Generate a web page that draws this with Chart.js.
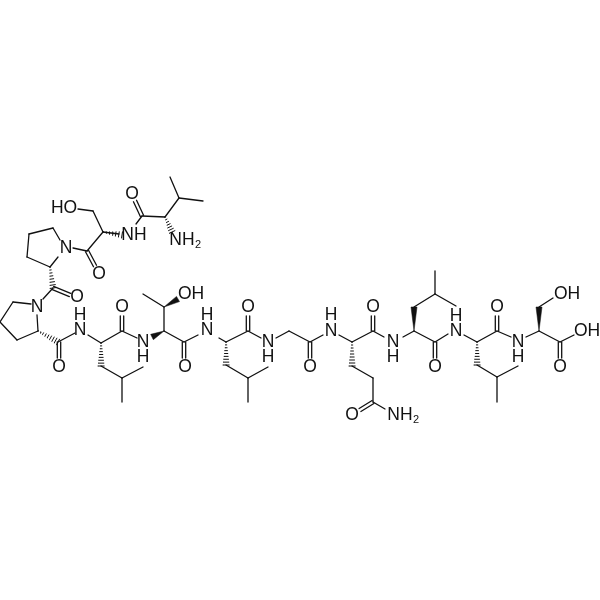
<!DOCTYPE html>
<html>
<head>
<meta charset="utf-8">
<script src="https://cdn.jsdelivr.net/npm/chart.js@4"></script>
<style>
    body { margin: 0; background: #fff; }
</style>
</head>
<body>
<canvas id="peptide" width="600" height="600"></canvas>
<script>
const singleBonds = [
    // Val
    [170, 177, 179, 198], [179, 198, 203, 201], [179, 198, 165, 217], [165, 217, 142, 216], [142, 216, 136, 224],
    // Ser
    [119, 234, 103, 232], [103, 232, 93, 211], [93, 211, 78, 209], [103, 232, 87, 251], [87, 251, 73, 248],
    // Pro 1
    [60, 240, 53, 228], [53, 228, 29, 234], [29, 234, 27, 257], [27, 257, 50, 267], [50, 267, 58, 257],
    [53, 288, 43, 299],
    // Pro 2
    [31, 304, 13, 302], [13, 302, 0, 322], [0, 322, 17, 340], [17, 340, 38, 331], [38, 331, 37, 315],
    // Leu
    [58, 342, 75, 333], [88, 335, 101, 343], [101, 343, 122, 331], [122, 331, 137, 338],
    [101, 366, 122, 378], [122, 378, 143, 367], [122, 378, 122, 402],
    // Thr
    [164, 331, 164, 307], [164, 307, 143, 294], [164, 331, 184, 342], [184, 342, 198, 335],
    // Leu
    [219, 338, 226, 342], [226, 342, 248, 331], [248, 331, 261, 338],
    [226, 365, 248, 378], [248, 378, 268, 367], [248, 378, 248, 402],
    // Gly
    [276, 338, 289, 331], [289, 331, 310, 342], [310, 342, 323, 335],
    // Gln
    [339, 335, 352, 342], [352, 342, 373, 331], [373, 331, 384, 337],
    [352, 366, 373, 378], [373, 378, 373, 402], [373, 402, 385, 409],
    // Leu
    [403, 337, 414, 331], [414, 331, 435, 342], [435, 342, 448, 334],
    [414, 307, 435, 294], [435, 294, 435, 271], [435, 294, 456, 306],
    // Leu
    [464, 335, 477, 342], [477, 342, 497, 331], [497, 331, 511, 337],
    [477, 365, 497, 377], [497, 377, 518, 366], [497, 377, 497, 402],
    // Ser
    [526, 337, 539, 331], [539, 331, 560, 342], [560, 342, 574, 335], [539, 307, 553, 298]
];

const doubleBonds = [
    [142, 216, 135, 201], [87, 251, 95, 266], [53, 288, 70, 295], [59, 342, 59, 358],
    [122, 331, 122, 316], [184, 342, 184, 358], [248, 331, 248, 316], [310, 342, 310, 358],
    [373, 331, 373, 316], [373, 402, 360, 410], [435, 342, 435, 358], [497, 331, 497, 316],
    [560, 342, 560, 358]
];

// narrow end first
const hashBonds = [
    [165, 217, 172, 232], [103, 232, 122, 235], [50, 267, 53, 288], [38, 331, 58, 342],
    [101, 343, 101, 366], [226, 342, 226, 365], [352, 342, 352, 366], [477, 342, 477, 365]
];

const wedgeBonds = [
    [164, 331, 152, 337], [164, 307, 178, 299], [414, 331, 414, 307], [539, 331, 539, 307]
];

const atomText = ["HO", "O", "NH", "N", "O", "O", "N",
    "N", "H", "O", "O", "N", "H", "OH", "O", "N", "H",
    "O", "N", "H", "O", "N", "H", "O", "O", "N", "H",
    "O", "N", "H", "O", "N", "H", "OH", "O", "OH"];
const atomX = [64, 132, 134, 66, 99, 77, 37,
    80, 80, 59, 122, 143, 143, 191, 185, 207, 207,
    248, 268, 268, 310, 331, 331, 373, 352, 393, 393,
    435, 456, 456, 497, 518, 518, 567, 560, 587];
const atomY = [208, 194, 235, 248, 274, 297, 307,
    330, 315, 367, 307, 342, 357, 294, 367, 330, 315,
    307, 342, 357, 367, 331, 315, 307, 415, 342, 357,
    367, 331, 316, 307, 342, 357, 294, 367, 331];

// NH2 groups have a subscript
const amineText = ["NH", "NH"];
const amineX = [182, 400];
const amineY = [240, 415];
const subText = ["2", "2"];
const subX = [198, 416];
const subY = [245, 420];

const inkColor = '#111';

function lineSet(points, width) {
    return {
        data: points,
        showLine: true,
        borderColor: inkColor,
        borderWidth: width,
        pointRadius: 0,
        borderCapStyle: 'round'
    };
}

let datasets = [];

for (const b of singleBonds) {
    datasets.push(lineSet([{ x: b[0], y: b[1] }, { x: b[2], y: b[3] }], 1.3));
}

// double bond = two lines next to each other
for (const b of doubleBonds) {
    let len = Math.hypot(b[2] - b[0], b[3] - b[1]);
    let nx = -(b[3] - b[1]) / len * 1.7;
    let ny = (b[2] - b[0]) / len * 1.7;
    datasets.push(lineSet([{ x: b[0] + nx, y: b[1] + ny }, { x: b[2] + nx, y: b[3] + ny }], 1.3));
    datasets.push(lineSet([{ x: b[0] - nx, y: b[1] - ny }, { x: b[2] - nx, y: b[3] - ny }], 1.3));
}

// hashed bond, short rungs getting wider
for (const b of hashBonds) {
    let len = Math.hypot(b[2] - b[0], b[3] - b[1]);
    let rungs = Math.round(len / 3);
    for (let i = 0; i <= rungs; i++) {
        let t = i / rungs;
        let half = 0.4 + t * 2.8;
        let cx = b[0] + (b[2] - b[0]) * t;
        let cy = b[1] + (b[3] - b[1]) * t;
        let nx = -(b[3] - b[1]) / len * half;
        let ny = (b[2] - b[0]) / len * half;
        datasets.push(lineSet([{ x: cx + nx, y: cy + ny }, { x: cx - nx, y: cy - ny }], 1));
    }
}

// solid wedge
for (const b of wedgeBonds) {
    let len = Math.hypot(b[2] - b[0], b[3] - b[1]);
    let nx = -(b[3] - b[1]) / len * 3;
    let ny = (b[2] - b[0]) / len * 3;
    let wedge = lineSet([{ x: b[0], y: b[1] }, { x: b[2] + nx, y: b[3] + ny }, { x: b[2] - nx, y: b[3] - ny }, { x: b[0], y: b[1] }], 0.5);
    wedge.fill = 'shape';
    wedge.backgroundColor = inkColor;
    datasets.push(wedge);
}

const atomLabels = {
    id: 'atomLabels',
    afterDatasetsDraw(chart) {
        let ctx = chart.ctx;
        let xs = chart.scales.x;
        let ys = chart.scales.y;
        ctx.save();
        ctx.fillStyle = inkColor;
        ctx.textAlign = 'center';
        ctx.textBaseline = 'middle';
        ctx.font = '17.5px "Liberation Sans"';
        atomText.forEach((t, i) => ctx.fillText(t, xs.getPixelForValue(atomX[i]), ys.getPixelForValue(atomY[i]) + 0.5));
        amineText.forEach((t, i) => ctx.fillText(t, xs.getPixelForValue(amineX[i]), ys.getPixelForValue(amineY[i]) + 0.5));
        ctx.font = '11px "Liberation Sans"';
        subText.forEach((t, i) => ctx.fillText(t, xs.getPixelForValue(subX[i]), ys.getPixelForValue(subY[i])));
        ctx.restore();
    }
};

new Chart(document.getElementById('peptide').getContext('2d'), {
    type: 'scatter',
    data: { datasets: datasets },
    options: {
        responsive: false,
        animation: false,
        layout: { padding: 0 },
        plugins: {
            legend: { display: false },
            tooltip: { enabled: false }
        },
        scales: {
            x: { type: 'linear', min: 0, max: 600, display: false },
            y: { type: 'linear', min: 0, max: 600, reverse: true, display: false }
        }
    },
    plugins: [atomLabels]
});
</script>
</body>
</html>
